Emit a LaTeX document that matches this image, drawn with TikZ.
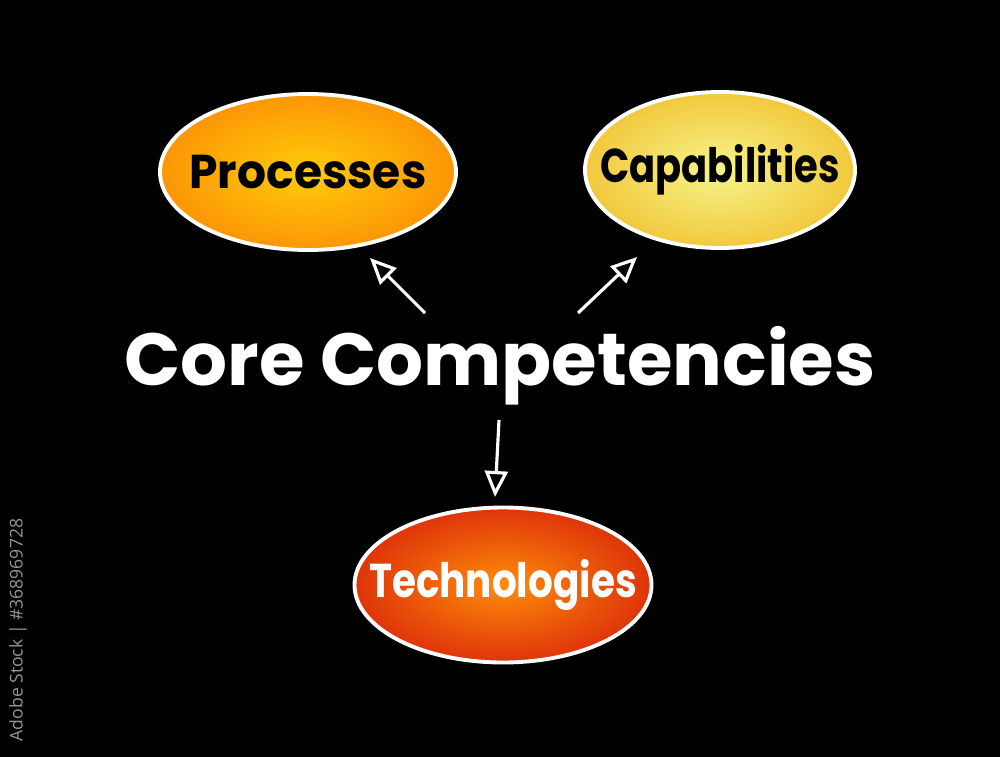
\documentclass[tikz,border=0pt]{standalone}
\usepackage{fontspec}
\setmainfont{Poppins}
\newfontfamily\stockfont{Open Sans}
\usetikzlibrary{shapes.geometric,arrows.meta}

\definecolor{procin}{RGB}{255,204,10}
\definecolor{procout}{RGB}{252,150,5}
\definecolor{capin}{RGB}{246,245,140}
\definecolor{capout}{RGB}{242,200,60}
\definecolor{techin}{RGB}{255,140,10}
\definecolor{techout}{RGB}{222,52,10}

\begin{document}
\begin{tikzpicture}[semithick,
  bubble/.style={ellipse, draw=white, line width=1.1pt},
  tag/.style={font=\bfseries\fontsize{13.5}{15}\selectfont},
  arr/.style={white, line width=0.9pt, -{Triangle[open, length=2.6mm, width=2.3mm]}}]
\useasboundingbox (0,0) rectangle (10,7.56);
\fill[black] (-0.1,-0.1) rectangle (10.1,7.66);
\node[bubble, minimum width=2.96cm, minimum height=1.56cm, inner color=procin, outer color=procout,
  label={[tag, xscale=0.96]center:Processes}] (proc) at (3.08,5.84) {};
\node[bubble, minimum width=2.70cm, minimum height=1.56cm, inner color=capin, outer color=capout,
  label={[tag, xscale=0.81]center:Capabilities}] (cap) at (7.20,5.86) {};
\node[bubble, minimum width=2.97cm, minimum height=1.55cm, inner color=techin, outer color=techout,
  label={[tag, text=white, xscale=0.82]center:Technologies}] (tech) at (5.03,1.71) {};
\node[text=white, font=\bfseries\fontsize{21}{25}\selectfont] (core) at (5.00,3.90) {Core Competencies};
\coordinate (c1) at (4.25,4.43);
\coordinate (t1) at (3.70,4.98);
\coordinate (c2) at (5.78,4.43);
\coordinate (t2) at (6.37,4.99);
\coordinate (c3) at (4.99,3.36);
\coordinate (t3) at (4.95,2.59);
\draw[arr] (c1) -- (t1);
\draw[arr] (c2) -- (t2);
\draw[arr] (c3) -- (t3);
\node[rotate=90, text={rgb,255:red,150;green,150;blue,150}, font=\stockfont\fontsize{5}{6}\selectfont] (stock) at (0.18,1.26) {Adobe Stock | \#368969728};
\end{tikzpicture}
\end{document}
